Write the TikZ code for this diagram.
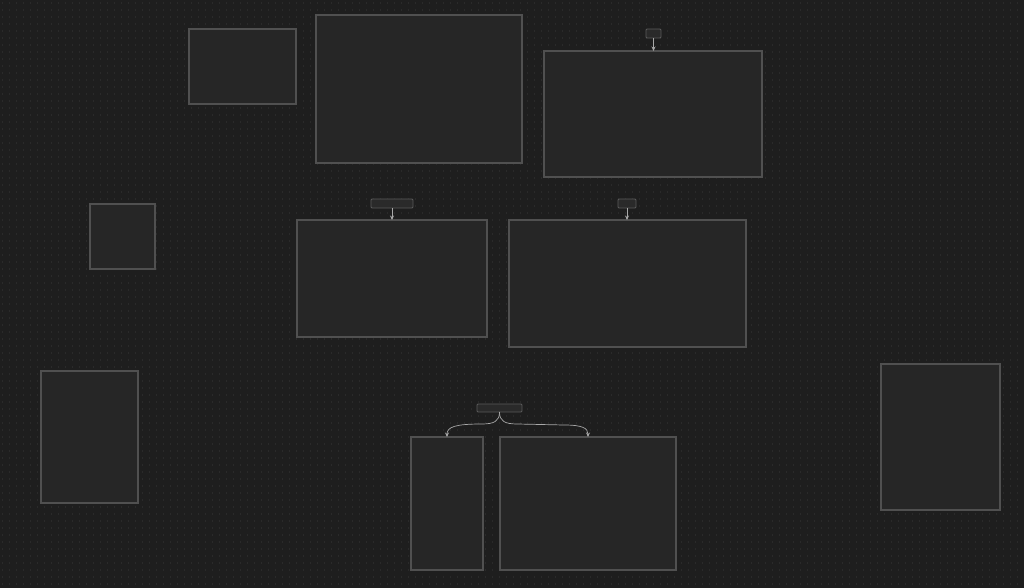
\documentclass[tikz,border=0pt]{standalone}
\usepackage{xcolor}
\usepackage{tikz}
\usetikzlibrary{arrows.meta}
\usetikzlibrary{calc}
\definecolor{bgcol}{HTML}{1E1E1E}
\definecolor{dotcol}{HTML}{2A2A2A}
\definecolor{panelfill}{HTML}{262626}
\definecolor{panelline}{HTML}{505050}
\definecolor{tagfill}{HTML}{2A2A2A}
\definecolor{tagline}{HTML}{5A5A5A}
\definecolor{linkcol}{HTML}{A8A8A8}

\begin{document}
\begin{tikzpicture}[x=1pt, y=-1pt]

                \tikzstyle{panel} = [rectangle, draw=panelline, fill=panelfill, line width=1.2pt, inner sep=0pt, outer sep=0pt]
                \tikzstyle{tag}   = [rectangle, rounded corners=1pt, draw=tagline, fill=tagfill, line width=0.8pt, inner sep=0pt, outer sep=0pt, minimum height=9pt]
                \tikzstyle{link}  = [draw=linkcol, line width=0.7pt, -{Stealth[length=4.5pt, width=4pt]}]

                % background and dot grid
                \fill [bgcol] (0,0) rectangle (1024,588);
                \useasboundingbox (0,0) rectangle (1024,588);
                \foreach \i in {0, 1,...,84}
                {
                        \draw [dotcol, line width=1.2pt, dash pattern=on 1.2pt off 5.8pt, dash phase=-2pt] (0,{3+7*\i}) -- (1024,{3+7*\i});
                }

                % panels
                \node [panel, minimum width=107pt, minimum height=75pt](pa) at (242.5,66.5) {};
                \node [panel, minimum width=206pt, minimum height=148pt](pb) at (419,89) {};
                \node [panel, minimum width=218pt, minimum height=126pt](pc) at (653,114) {};
                \node [panel, minimum width=65pt, minimum height=65pt](pd) at (122.5,236.5) {};
                \node [panel, minimum width=190pt, minimum height=117pt](pe) at (392,278.5) {};
                \node [panel, minimum width=237pt, minimum height=127pt](pf) at (627.5,283.5) {};
                \node [panel, minimum width=97pt, minimum height=132pt](pg) at (89.5,437) {};
                \node [panel, minimum width=72pt, minimum height=133pt](ph) at (447,503.5) {};
                \node [panel, minimum width=176pt, minimum height=133pt](pi) at (588,503.5) {};
                \node [panel, minimum width=119pt, minimum height=146pt](pj) at (940.5,437) {};

                % tags
                \node [tag, minimum width=15pt](tc) at (653.5,33.5) {};
                \node [tag, minimum width=42pt](te) at (392,203.5) {};
                \node [tag, minimum width=18pt](tf) at (627,203.5) {};
                \node [tag, minimum width=45pt, minimum height=8pt](th) at (499.5,408) {};

                \draw [link] (tc.south) -- (tc.south |- pc.north);
                \draw [link] (te.south) -- (te.south |- pe.north);
                \draw [link] (tf.south) -- (tf.south |- pf.north);

                \draw [link] (th.south) .. controls ($(th.south)+(0,9)$) and ($(th.south)+(-5,12)$) .. ($(th.south)+(-18,12)$)
                        .. controls ($(ph.north)+(8,-13)$) and ($(ph.north)+(0,-10)$) .. (ph.north);
                \draw [link] (th.south) .. controls ($(th.south)+(0,9)$) and ($(th.south)+(5,12)$) .. ($(th.south)+(18,12)$)
                        -- ($(pi.north)+(-24,-12)$) .. controls ($(pi.north)+(-6,-12)$) and ($(pi.north)+(0,-9)$) .. (pi.north);

\end{tikzpicture}
\end{document}
